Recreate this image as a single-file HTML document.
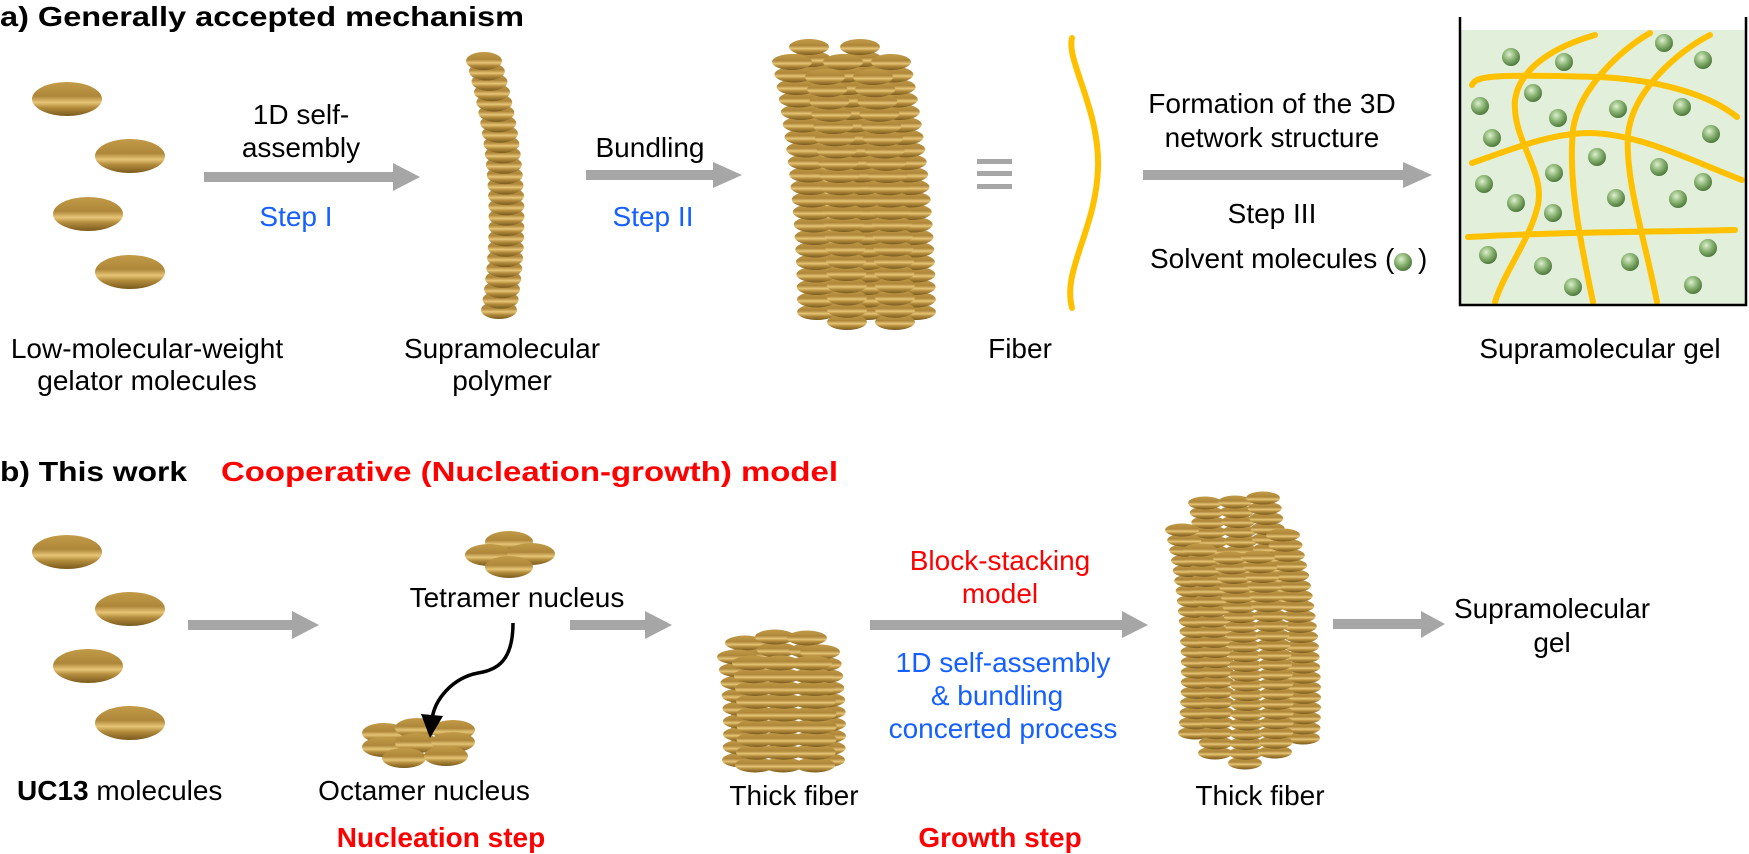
<!DOCTYPE html>
<html><head><meta charset="utf-8"><style>
html,body{margin:0;padding:0;background:#fff;}
svg{display:block;font-family:"Liberation Sans",Arial,sans-serif;}
</style></head><body>
<svg id="s" width="1749" height="854" viewBox="0 0 1749 854" xmlns="http://www.w3.org/2000/svg">
<defs>
<linearGradient id="dg" x1="0" y1="0" x2="0" y2="1">
<stop offset="0" stop-color="#C29B48"/><stop offset="0.42" stop-color="#AE873A"/>
<stop offset="0.6" stop-color="#E6C476"/><stop offset="0.75" stop-color="#B38C3C"/>
<stop offset="1" stop-color="#7A5A1D"/></linearGradient>
<radialGradient id="bg" cx="0.4" cy="0.35" r="0.65">
<stop offset="0" stop-color="#DDEFCF"/><stop offset="0.5" stop-color="#8DB676"/><stop offset="1" stop-color="#4E7A3C"/></radialGradient>
</defs>
<rect width="1749" height="854" fill="#fff"/>
<g id="discs"></g>

<!-- gel box -->
<rect x="1460" y="30" width="286" height="275" fill="#E2EFDA"/>
<g fill="none" stroke="#FFC000" stroke-width="6" stroke-linecap="round">
<path d="M1472,85 C1476,76 1490,74 1600,77 C1660,80 1710,95 1737,117"/>
<path d="M1472,163 C1510,150 1550,133 1590,133 C1640,134 1690,160 1742,180"/>
<path d="M1468,237 C1560,232 1650,232 1735,230"/>
<path d="M1595,35 C1560,45 1520,65 1515,100 C1512,140 1545,170 1538,205 C1530,240 1505,270 1495,302"/>
<path d="M1650,33 C1620,50 1578,90 1573,130 C1568,180 1580,240 1593,302"/>
<path d="M1710,35 C1680,50 1632,90 1628,135 C1625,180 1645,240 1657,302"/>
</g>
<g id="balls"></g>
<path d="M1460,17 V305 H1746 V17" fill="none" stroke="#000" stroke-width="2.5"/>

<!-- arrows -->
<g fill="#A6A6A6">
<path d="M204,172 H393 V163 L420,177 L393,191 V182 H204Z"/>
<path d="M586,170 H713 V162 L742,175 L713,188 V180 H586Z"/>
<path d="M1143,170 H1403 V162 L1432,175 L1403,188 V180 H1143Z"/>
<path d="M188,620 H292 V611 L319,625 L292,639 V630 H188Z"/>
<path d="M570,620 H645 V611 L672,625 L645,639 V630 H570Z"/>
<path d="M870,620 H1122 V611 L1148,625 L1122,638 V630 H870Z"/>
<path d="M1333,619 H1421 V611 L1445,624 L1421,638 V629 H1333Z"/>
<rect x="977" y="159" width="35" height="5"/><rect x="977" y="171" width="35" height="5"/><rect x="977" y="184" width="35" height="5"/>
</g>
<path d="M1072,38 C1066,60 1100,110 1098,168 C1096,230 1062,270 1072,308" fill="none" stroke="#FFC000" stroke-width="6" stroke-linecap="round"/>

<!-- curved arrow -->
<path d="M513,623 C513,660 498,670 478,673 C452,678 434,700 432,720" fill="none" stroke="#000" stroke-width="3.5"/>
<path d="M421,714 L443,716 L430,738Z" fill="#000"/>

<g font-size="28" fill="#000">
<text x="0" y="26" font-weight="bold" textLength="524" lengthAdjust="spacingAndGlyphs">a) Generally accepted mechanism</text>
<text x="301" y="124" text-anchor="middle">1D self-</text>
<text x="301" y="157" text-anchor="middle">assembly</text>
<text x="296" y="226" text-anchor="middle" fill="#1560FF">Step I</text>
<text x="650" y="157" text-anchor="middle">Bundling</text>
<text x="653" y="226" text-anchor="middle" fill="#1560FF">Step II</text>
<text x="1272" y="113" text-anchor="middle">Formation of the 3D</text>
<text x="1272" y="147" text-anchor="middle">network structure</text>
<text x="1272" y="223" text-anchor="middle">Step III</text>
<text x="1150" y="268">Solvent molecules (</text>
<text x="1418" y="268">)</text>
<text x="147" y="358" text-anchor="middle">Low-molecular-weight</text>
<text x="147" y="390" text-anchor="middle">gelator molecules</text>
<text x="502" y="358" text-anchor="middle">Supramolecular</text>
<text x="502" y="390" text-anchor="middle">polymer</text>
<text x="1020" y="358" text-anchor="middle">Fiber</text>
<text x="1600" y="358" text-anchor="middle">Supramolecular gel</text>

<text x="0" y="481" font-weight="bold" textLength="187" lengthAdjust="spacingAndGlyphs">b) This work</text>
<text x="221" y="481" font-weight="bold" fill="#FF0000" textLength="617" lengthAdjust="spacingAndGlyphs">Cooperative (Nucleation-growth) model</text>
<text x="517" y="607" text-anchor="middle">Tetramer nucleus</text>
<text x="17" y="800"><tspan font-weight="bold">UC13</tspan> molecules</text>
<text x="424" y="800" text-anchor="middle">Octamer nucleus</text>
<text x="441" y="847" text-anchor="middle" font-weight="bold" fill="#FF0000">Nucleation step</text>
<text x="794" y="805" text-anchor="middle">Thick fiber</text>
<text x="1000" y="570" text-anchor="middle" fill="#FF0000">Block-stacking</text>
<text x="1000" y="603" text-anchor="middle" fill="#FF0000">model</text>
<text x="1003" y="672" text-anchor="middle" fill="#1560FF">1D self-assembly</text>
<text x="997" y="705" text-anchor="middle" fill="#1560FF">&amp; bundling</text>
<text x="1003" y="738" text-anchor="middle" fill="#1560FF">concerted process</text>
<text x="1000" y="847" text-anchor="middle" font-weight="bold" fill="#FF0000">Growth step</text>
<text x="1260" y="805" text-anchor="middle">Thick fiber</text>
<text x="1552" y="618" text-anchor="middle">Supramolecular</text>
<text x="1552" y="652" text-anchor="middle">gel</text>
</g>
</svg>
<script>
var NS="http://www.w3.org/2000/svg",G=document.getElementById("discs"),B=document.getElementById("balls");
function disc(cx,cy,rx,ry){var e=document.createElementNS(NS,"ellipse");e.setAttribute("cx",cx);e.setAttribute("cy",cy);e.setAttribute("rx",rx);e.setAttribute("ry",ry);e.setAttribute("fill","url(#dg)");G.appendChild(e);}
function col(x0,y0,x1,y1,bulge,rx,ry,sp){var n=Math.round((y1-y0)/sp);var pts=[];for(var i=0;i<=n;i++){var t=i/n;pts.push([x0+(x1-x0)*t+bulge*4*t*(1-t),y0+(y1-y0)*t]);}for(var j=pts.length-1;j>=0;j--)disc(pts[j][0],pts[j][1],rx,ry);}
[[67,99],[130,156],[88,214],[130,272],[67,552],[130,609],[88,666],[130,723]].forEach(function(p){disc(p[0],p[1],35,17);});
col(484,61,499,310,14,18,9,10.4);
[[809,47],[860,47]].forEach(function(p){col(p[0],p[1],p[0]+22,300,6,20,8,12.3);});
[[792,62],[843,62],[891,62]].forEach(function(p){col(p[0],p[1],p[0]+25,312,6,20,8,12.3);});
[[825,77],[873,77]].forEach(function(p){col(p[0],p[1],p[0]+22,322,6,20,8,12.3);});
[[509,542],[489,555],[531,554],[509,567]].forEach(function(p){disc(p[0],p[1],24,11);});
[[384,733],[417,728],[453,730],[384,747],[417,743],[453,742],[404,758],[446,756]].forEach(function(p){disc(p[0],p[1],22,10);});
[[745,643],[775,637],[807,638]].forEach(function(p){col(p[0],p[1],p[0]+5,752,3,20,7.5,12.3);});
[[737,657],[820,652]].forEach(function(p){col(p[0],p[1],p[0]+5,760,3,20,7.5,12.3);});
[[752,663],[780,663],[812,663]].forEach(function(p){col(p[0],p[1],p[0]+3,765,3,20,7.5,12.3);});
[[1205,503],[1235,502],[1263,498]].forEach(function(p){col(p[0],p[1],p[0]+10,600,2,17,6.5,10);});
col(1182,530,1195,733,8,17,6.5,10);
col(1283,535,1303,738,8,17,6.5,10);
col(1200,550,1215,753,8,17,6.5,10);
col(1230,558,1245,763,8,17,6.5,10);
col(1258,557,1275,752,8,17,6.5,10);
[[1511,57],[1564,62],[1664,43],[1703,60],[1480,106],[1533,93],[1558,118],[1618,109],[1682,107],[1492,138],[1711,134],[1597,157],[1554,173],[1659,167],[1484,184],[1516,203],[1553,213],[1616,198],[1678,199],[1703,182],[1488,255],[1543,266],[1630,262],[1708,248],[1573,287],[1693,285],[1403,262]].forEach(function(p){var c=document.createElementNS(NS,"circle");c.setAttribute("cx",p[0]);c.setAttribute("cy",p[1]);c.setAttribute("r",9);c.setAttribute("fill","url(#bg)");B.appendChild(c);});
</script>
</body></html>
